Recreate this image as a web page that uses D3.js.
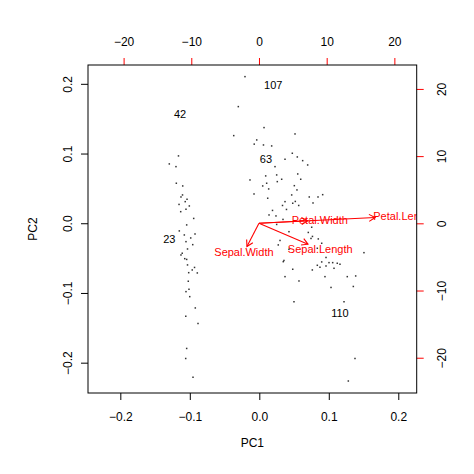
<!DOCTYPE html>
<html>
<head>
<meta charset="utf-8">
<script src="https://cdn.jsdelivr.net/npm/d3@7.9.0/dist/d3.min.js"></script>
<style>
  body { margin: 0; background: #fff; }
  svg text { font-family: "Liberation Sans", Arial, Helvetica, sans-serif; }
</style>
</head>
<body>
<svg id="chart" width="474" height="474"></svg>
<script>
const scoresPC1 = [
  -0.1163, -0.1295, -0.1199, -0.1194, -0.1102, -0.1105, -0.1127, -0.1040, -0.1066, -0.1155,
  -0.1007, -0.1055, -0.1131, -0.0944, -0.1045, -0.1151, -0.1079, -0.0925, -0.0987, -0.1055,
  -0.0958, -0.1033, -0.1109, -0.1127, -0.1073, -0.1045, -0.1033, -0.0932, -0.0965, -0.1016,
  -0.0892, -0.1022, -0.1012, -0.1055, -0.1001, -0.0921, -0.1058, -0.0882, -0.1045, -0.1059,
  -0.0954,
  -0.0206, -0.0302, -0.0368, 0.0068, 0.0514, -0.0037, -0.0073, 0.0060, 0.0178, 0.0475,
  0.0547, 0.0624, 0.0696, 0.0370, 0.0226, 0.0553, 0.0250, 0.0322, -0.0134, 0.0092,
  0.0106, 0.0049, 0.0135, 0.0259, 0.0596, 0.0504, 0.0542, -0.0076, 0.0121, 0.0466,
  0.0719, 0.0845, 0.0912, 0.0370, 0.0334, 0.0481, 0.0518, 0.0567, 0.0391, 0.0773,
  0.0190, 0.0140, 0.0240, 0.0341, 0.0250, 0.0754, 0.0427, 0.0705, 0.0765, 0.0849,
  0.0744, 0.0298, 0.0273, 0.0898, 0.0427, 0.0835, 0.1506, 0.0355, 0.0345, 0.0960,
  0.0898, 0.1003, 0.1056, 0.1122, 0.1161, 0.0835, 0.0960, 0.0481, 0.0763, 0.0873,
  0.1075, 0.0370, 0.0945, 0.1387, 0.1266, 0.0571, 0.1353, 0.1032, 0.0499, 0.1219,
  0.1377, 0.1281
];
const scoresPC2 = [
  0.0966, 0.0851, 0.0812, 0.0574, 0.0535, 0.0406, 0.0377, 0.0344, 0.0310, 0.0270,
  0.0248, 0.0201, 0.0166, 0.0069, -0.0024, -0.0110, -0.0168, -0.0154, -0.0211, -0.0264,
  -0.0307, -0.0369, -0.0430, -0.0455, -0.0508, -0.0519, -0.0598, -0.0634, -0.0670, -0.0709,
  -0.0713, -0.0832, -0.0947, -0.0981, -0.1053, -0.1215, -0.1334, -0.1438, -0.1796, -0.1940,
  -0.2209,
  0.2103, 0.1673, 0.1257, 0.1372, 0.1281, 0.1195, 0.1135, 0.1123, 0.1109, 0.1004,
  0.0951, 0.0898, 0.0836, 0.0918, 0.0812, 0.0707, 0.0693, 0.0631, 0.0621, 0.0679,
  0.0574, 0.0535, 0.0492, 0.0597, 0.0631, 0.0539, 0.0478, 0.0420, 0.0359, 0.0406,
  0.0377, 0.0377, 0.0410, 0.0310, 0.0255, 0.0287, 0.0313, 0.0255, 0.0198, 0.0291,
  0.0184, 0.0119, 0.0105, 0.0055, -0.0017, -0.0057, -0.0121, -0.0132, -0.0189, -0.0225,
  -0.0218, -0.0247, -0.0311, -0.0287, -0.0373, -0.0359, -0.0422, -0.0534, -0.0551, -0.0491,
  -0.0555, -0.0565, -0.0565, -0.0574, -0.0588, -0.0603, -0.0613, -0.0660, -0.0670, -0.0631,
  -0.0646, -0.0766, -0.0766, -0.0756, -0.0766, -0.0828, -0.0907, -0.0921, -0.1126, -0.1126,
  -0.1940, -0.2263
];

// labelled observations (row numbers)
const obsLabels = ["107", "42", "63", "23", "110"];
const obsPC1 = [0.0201, -0.1141, 0.0096, -0.1295, 0.1161];
const obsPC2 = [0.1984, 0.1564, 0.0918, -0.0225, -0.1291];

// variable loadings (top / right axes)
const varNames = ["Sepal.Length", "Sepal.Width", "Petal.Length", "Petal.Width"];
const varPC1 = [9.05, -2.22, 21.45, 8.98];
const varPC2 = [-3.88, -4.30, 1.07, 0.47];

const xTicks = [-0.2, -0.1, 0.0, 0.1, 0.2];
const yTicks = [-0.2, -0.1, 0.0, 0.1, 0.2];
const topTicks = [-20, -10, 0, 10, 20];
const rightTicks = [-20, -10, 0, 10, 20];

const box = { left: 88, right: 416.7, top: 65, bottom: 393 };

const svg = d3.select("#chart");

const x = d3.scaleLinear().domain([-0.2465, 0.2265]).range([box.left, box.right]);
const y = d3.scaleLinear().domain([-0.2435, 0.227]).range([box.bottom, box.top]);
const x2 = d3.scaleLinear().domain([-25.26, 23.3]).range([box.left, box.right]);
const y2 = d3.scaleLinear().domain([-25.25, 23.56]).range([box.bottom, box.top]);

const fmt1 = d3.format(".1f");
const fmt0 = d3.format("d");

function styleAxis(g, color, fontSize) {
  g.select(".domain").remove();
  g.selectAll(".tick line").attr("stroke", color).attr("stroke-width", 1);
  g.selectAll(".tick text").attr("fill", "#000").attr("font-size", fontSize)
    .attr("font-family", "Liberation Sans, Arial, sans-serif");
}

// bottom axis
svg.append("g")
  .attr("transform", `translate(0,${box.bottom})`)
  .call(d3.axisBottom(x).tickValues(xTicks).tickFormat(fmt1).tickSize(7).tickPadding(12))
  .call(g => styleAxis(g, "#000", 12));

// left axis, rotated labels
const gl = svg.append("g")
  .attr("transform", `translate(${box.left},0)`)
  .call(d3.axisLeft(y).tickValues(yTicks).tickFormat(fmt1).tickSize(7))
  .call(g => styleAxis(g, "#000", 12));
gl.selectAll(".tick text")
  .attr("x", null).attr("dy", null)
  .attr("text-anchor", "middle")
  .attr("dominant-baseline", "central")
  .attr("transform", "translate(-20,0) rotate(-90)");

// top axis (loadings)
svg.append("g")
  .attr("transform", `translate(0,${box.top})`)
  .call(d3.axisTop(x2).tickValues(topTicks).tickFormat(fmt0).tickSize(7).tickPadding(12))
  .call(g => styleAxis(g, "red", 12));

// right axis (loadings), rotated labels
const gr = svg.append("g")
  .attr("transform", `translate(${box.right},0)`)
  .call(d3.axisRight(y2).tickValues(rightTicks).tickFormat(fmt0).tickSize(7))
  .call(g => styleAxis(g, "red", 12));
gr.selectAll(".tick text")
  .attr("x", null).attr("dy", null)
  .attr("text-anchor", "middle")
  .attr("dominant-baseline", "central")
  .attr("transform", "translate(25,0) rotate(-90)");

// clip to plot region
svg.append("clipPath").attr("id", "plotclip")
  .append("rect")
  .attr("x", box.left).attr("y", box.top)
  .attr("width", box.right - box.left).attr("height", box.bottom - box.top);

const plot = svg.append("g").attr("clip-path", "url(#plotclip)");

// points
const pts = d3.range(scoresPC1.length).map(i => ({ px: scoresPC1[i], py: scoresPC2[i] }));
plot.selectAll("rect.pt")
  .data(pts)
  .join("rect")
  .attr("class", "pt")
  .attr("x", d => x(d.px) - 0.75)
  .attr("y", d => y(d.py) - 0.75)
  .attr("width", 1.5)
  .attr("height", 1.5)
  .attr("fill", "#333");

// labelled observations
plot.selectAll("text.obs")
  .data(obsLabels.map((l, i) => ({ label: l, px: obsPC1[i], py: obsPC2[i] })))
  .join("text")
  .attr("class", "obs")
  .attr("x", d => x(d.px))
  .attr("y", d => y(d.py))
  .attr("text-anchor", "middle")
  .attr("dominant-baseline", "central")
  .attr("font-size", 11)
  .attr("fill", "#000")
  .text(d => d.label);

// loading arrows (drawn to 0.8 of label position, as biplot does)
const vars = varNames.map((n, i) => ({ name: n, vx: varPC1[i], vy: varPC2[i] }));
const headLen = 7, headAng = Math.PI / 6;

vars.forEach(v => {
  const x0 = x2(0), y0 = y2(0);
  const x1 = x2(v.vx * 0.8), y1 = y2(v.vy * 0.8);
  const ang = Math.atan2(y1 - y0, x1 - x0);
  plot.append("line")
    .attr("x1", x0).attr("y1", y0).attr("x2", x1).attr("y2", y1)
    .attr("stroke", "red").attr("stroke-width", 1.1);
  const path = d3.path();
  path.moveTo(x1 - headLen * Math.cos(ang - headAng), y1 - headLen * Math.sin(ang - headAng));
  path.lineTo(x1, y1);
  path.lineTo(x1 - headLen * Math.cos(ang + headAng), y1 - headLen * Math.sin(ang + headAng));
  plot.append("path")
    .attr("d", path.toString())
    .attr("fill", "none").attr("stroke", "red").attr("stroke-width", 1.1);
});

plot.selectAll("text.var")
  .data(vars)
  .join("text")
  .attr("class", "var")
  .attr("x", d => x2(d.vx))
  .attr("y", d => y2(d.vy))
  .attr("text-anchor", "middle")
  .attr("dominant-baseline", "central")
  .attr("font-size", 11)
  .attr("fill", "red")
  .text(d => d.name);

// box
svg.append("rect")
  .attr("x", box.left).attr("y", box.top)
  .attr("width", box.right - box.left).attr("height", box.bottom - box.top)
  .attr("fill", "none").attr("stroke", "#000").attr("stroke-width", 1);

// axis titles
svg.append("text")
  .attr("x", (box.left + box.right) / 2).attr("y", 443)
  .attr("text-anchor", "middle").attr("dominant-baseline", "central")
  .attr("font-size", 12).text("PC1");

svg.append("text")
  .attr("transform", `translate(33,${(box.top + box.bottom) / 2}) rotate(-90)`)
  .attr("text-anchor", "middle").attr("dominant-baseline", "central")
  .attr("font-size", 12).text("PC2");
</script>
</body>
</html>
